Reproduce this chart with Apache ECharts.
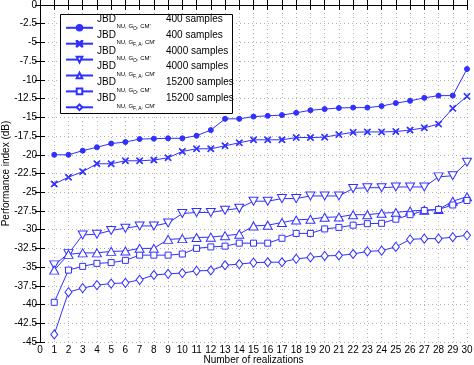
<!DOCTYPE html>
<html><head><meta charset="utf-8">
<script src="https://cdn.jsdelivr.net/npm/echarts@6/dist/echarts.min.js"></script>
<style>html,body{margin:0;padding:0;background:#fff}#c{width:474px;height:365px}</style>
</head><body><div id="c"></div>
<script>
const realizations = [1,2,3,4,5,6,7,8,9,10,11,12,13,14,15,16,17,18,19,20,21,22,23,24,25,26,27,28,29,30];
const xTicks = [0,30,1];
const yTicks = [-45,0,2.5];
const s400O   = [-20.0,-20.0,-19.45,-19.0,-18.5,-18.3,-17.9,-17.85,-17.8,-17.8,-17.45,-16.7,-15.2,-15.2,-14.9,-14.8,-14.7,-14.4,-14.05,-13.9,-13.75,-13.7,-13.7,-13.5,-13.1,-12.8,-12.4,-12.1,-12.1,-8.55];
const s400FA  = [-23.9,-23.0,-22.25,-21.2,-21.2,-20.8,-20.8,-20.7,-20.4,-19.55,-19.2,-19.2,-18.8,-18.4,-18.0,-18.0,-18.0,-17.7,-17.7,-17.65,-17.3,-17.0,-16.95,-16.95,-16.9,-16.7,-16.4,-15.9,-13.8,-12.2];
const s4000O  = [-34.7,-33.2,-30.7,-30.6,-30.1,-29.8,-29.5,-29.5,-29.1,-27.85,-27.7,-27.7,-27.4,-27.15,-26.2,-26.2,-25.85,-25.85,-25.5,-25.5,-25.5,-24.5,-24.4,-24.4,-24.3,-24.3,-24.3,-22.95,-22.8,-21.0];
const s4000FA = [-35.4,-33.3,-33.1,-33.1,-32.9,-32.85,-32.5,-32.5,-31.3,-31.2,-31.05,-31.0,-30.8,-30.6,-29.5,-29.4,-29.05,-28.7,-28.6,-28.35,-28.3,-28.0,-28.0,-27.8,-27.7,-27.5,-27.4,-27.3,-26.2,-25.6];
const s15200O = [-39.7,-35.4,-34.9,-34.5,-34.4,-34.1,-33.4,-33.4,-33.4,-33.25,-32.5,-32.3,-32.2,-31.8,-31.8,-31.8,-31.15,-30.5,-30.5,-29.9,-29.7,-29.4,-29.2,-29.15,-28.6,-28.0,-27.45,-27.3,-26.7,-26.1];
const s15200FA= [-44.0,-38.35,-37.8,-37.4,-37.2,-37.1,-36.7,-36.05,-35.9,-35.8,-35.5,-35.45,-34.75,-34.6,-34.4,-34.35,-34.35,-33.9,-33.7,-33.5,-33.45,-33.25,-32.9,-32.8,-32.3,-31.3,-31.2,-31.2,-31.0,-30.75];

const seriesNames = ['400 O','400 FA','4000 O','4000 FA','15200 O','15200 FA'];
const sampleLabels = ['400 samples','400 samples','4000 samples','4000 samples','15200 samples','15200 samples'];
const subLabels = ['O','F, A','O','F, A','O','F, A'];
const allData = [s400O, s400FA, s4000O, s4000FA, s15200O, s15200FA];

const BLUE = '#3030ff';
const FONT = 'Liberation Sans';
const crossPath = 'path://M0,0L1.2,0L5,3.8L8.8,0L10,0L10,1.2L6.2,5L10,8.8L10,10L8.8,10L5,6.2L1.2,10L0,10L0,8.8L3.8,5L0,1.2Z';
const downTri = 'path://M0,0L10,0L5,9Z';
const symbols = [
  {symbol:'circle', size:5, fill:BLUE},
  {symbol:crossPath, size:6, fill:BLUE},
  {symbol:downTri, size:[9,8], fill:'#fff'},
  {symbol:'triangle', size:[9,8], fill:'#fff'},
  {symbol:'rect', size:6, fill:'#fff'},
  {symbol:'diamond', size:[7,9], fill:'#fff'}
];

const series = allData.map((vals, i) => ({
  name: seriesNames[i],
  type: 'line',
  data: realizations.map((x, k) => [x, vals[k]]),
  symbol: symbols[i].symbol,
  symbolSize: symbols[i].size,
  showAllSymbol: true,
  lineStyle: {color: BLUE, width: 1},
  itemStyle: {color: symbols[i].fill, borderColor: BLUE, borderWidth: 1},
  emphasis: {disabled: true},
  animation: false,
  z: 3
}));

// ---- legend layout (icons via legend components, labels via text elements) ----
const mctx = document.createElement('canvas').getContext('2d');
function tw(str, size) { mctx.font = size + 'px "' + FONT + '"'; return mctx.measureText(str).width; }
const ROW0 = 24, ROW_STEP = 15.9, TEXT_X = 97, COL_X = 166;
const F_MAIN = 10, F_SUB = 6, F_SUBSUB = 5;

const legends = seriesNames.map((nm, i) => ({
  show: true, z: 60,
  left: 65, top: ROW0 + ROW_STEP * i,
  padding: 0,
  itemWidth: 27, itemHeight: 7,
  selectedMode: false,
  data: [nm],
  formatter: () => '',
  textStyle: {fontSize: 1, lineHeight: 1}
}));

function txt(str, x, y, size) {
  return {type: 'text', z: 61, silent: true, x: x, y: y,
    style: {text: str, font: size + 'px "' + FONT + '"', fill: '#000', verticalAlign: 'middle', align: 'left'}};
}
const legendTexts = [];
seriesNames.forEach((nm, i) => {
  const cy = ROW0 + ROW_STEP * i;
  let x = TEXT_X;
  legendTexts.push(txt('JBD', x, cy - 5, F_MAIN)); x += tw('JBD', F_MAIN) + 0.5;
  legendTexts.push(txt('NU, G', x, cy + 2.5, F_SUB)); x += tw('NU, G', F_SUB);
  legendTexts.push(txt(subLabels[i], x, cy + 5, F_SUBSUB)); x += tw(subLabels[i], F_SUBSUB);
  legendTexts.push(txt(", CM'", x, cy + 2.5, F_SUB));
  legendTexts.push(txt(sampleLabels[i], COL_X, cy - 5, F_MAIN));
});

const chart = echarts.init(document.getElementById('c'), null, {renderer: 'canvas'});
const gridLine = {show: true, lineStyle: {color: '#b0b0b0', type: [1, 3], width: 1}};
const axisLineBlack = {show: true, lineStyle: {color: '#000', width: 1}};
chart.setOption({
  animation: false,
  backgroundColor: '#fff',
  grid: {left: 40, right: 7, top: 5, bottom: 23, containLabel: false, outerBoundsMode: 'none'},
  xAxis: [{
    type: 'value', min: xTicks[0], max: xTicks[1], interval: xTicks[2],
    axisLine: axisLineBlack,
    axisTick: {show: true, inside: true, length: 5, lineStyle: {color: '#000'}},
    axisLabel: {color: '#000', fontFamily: FONT, fontSize: 10, margin: 3, hideOverlap: false},
    splitLine: gridLine,
    name: 'Number of realizations', nameLocation: 'middle', nameGap: 13, nameMoveOverlap: false,
    nameTextStyle: {color: '#000', fontFamily: FONT, fontSize: 10}
  }, {
    type: 'value', position: 'top', min: xTicks[0], max: xTicks[1], interval: xTicks[2],
    axisLine: axisLineBlack,
    axisTick: {show: true, inside: true, length: 5, lineStyle: {color: '#000'}},
    axisLabel: {show: false}, splitLine: {show: false}
  }],
  yAxis: [{
    type: 'value', min: yTicks[0], max: yTicks[1], interval: yTicks[2],
    axisLine: axisLineBlack,
    axisTick: {show: true, inside: true, length: 5, lineStyle: {color: '#000'}},
    axisLabel: {color: '#000', fontFamily: FONT, fontSize: 10, margin: 3, hideOverlap: false},
    splitLine: gridLine,
    name: 'Performance index (dB)', nameLocation: 'middle', nameGap: 29, nameMoveOverlap: false,
    nameTextStyle: {color: '#000', fontFamily: FONT, fontSize: 10}
  }, {
    type: 'value', position: 'right', min: yTicks[0], max: yTicks[1], interval: yTicks[2],
    axisLine: axisLineBlack,
    axisTick: {show: true, inside: true, length: 5, lineStyle: {color: '#000'}},
    axisLabel: {show: false}, splitLine: {show: false}
  }],
  graphic: [{
    type: 'rect', z: 50, silent: true,
    shape: {x: 60.5, y: 14.5, width: 172, height: 99},
    style: {fill: '#fff', stroke: '#000', lineWidth: 1}
  }].concat(legendTexts),
  legend: legends,
  series: series
});
</script>
</body></html>
